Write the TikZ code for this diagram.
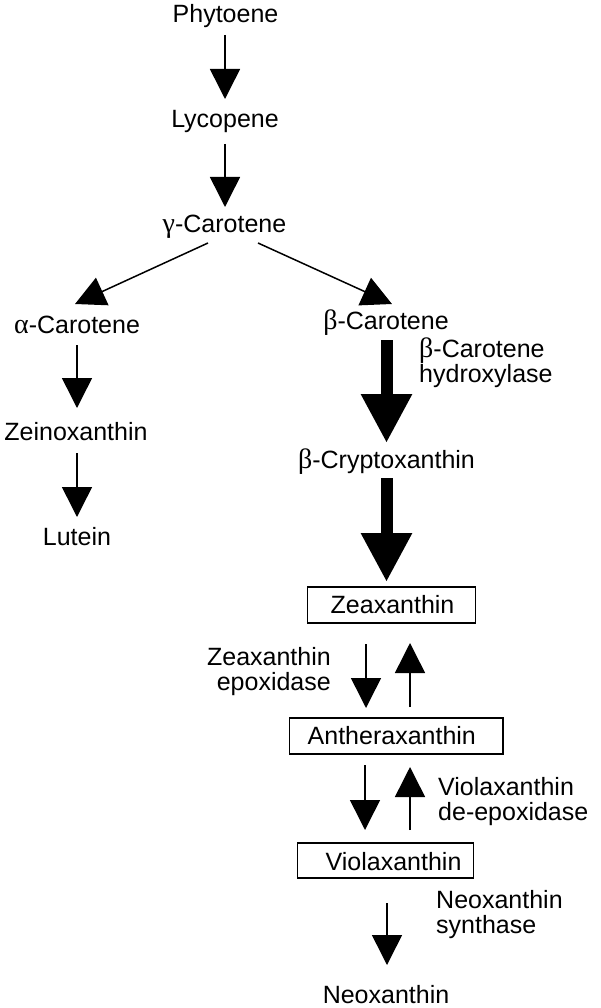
\documentclass[tikz,border=0pt]{standalone}
\usepackage{fontspec}
\setmainfont{Liberation Sans}
\newfontfamily\gk[Scale=1.12]{Liberation Serif}
\usetikzlibrary{arrows.meta}
\begin{document}
\begin{tikzpicture}[x=1pt,y=-1pt,
  lbl/.style={inner sep=0pt,anchor=base,font=\fontsize{25}{24.5}\selectfont},
  lbll/.style={lbl,anchor=base west,align=left},
  lblr/.style={lbl,anchor=base east,align=right},
  boxn/.style={lbl,draw,line width=1.4pt,anchor=base west,text height=26pt,text depth=10pt},
  tarr/.style={line width=1.5pt,-{Triangle[length=30pt,width=30pt]}},
  barr/.style={line width=12pt,-{Triangle[length=49pt,width=48pt]}}]
\useasboundingbox (0,0) rectangle (600,1008);
% compounds
\node[lbl] (phy) at (225.5,23) {Phytoene};
\node[lbl] (lyc) at (225,128) {Lycopene};
\node[lbl] (gam) at (224.5,233) {{\gk γ}-Carotene};
\node[lbl] (alp) at (77,333) {{\gk α}-Carotene};
\node[lbl] (bet) at (386,329) {{\gk β}-Carotene};
\node[lbl] (zei) at (76,440) {Zeinoxanthin};
\node[lbl] (lut) at (77,545) {Lutein};
\node[lbl] (cry) at (386.5,468) {{\gk β}-Cryptoxanthin};
\node[lbl] (neo) at (386,1003) {Neoxanthin};
% boxed compounds
\node[boxn] (zea) at (307,613) {\kern23pt Zeaxanthin\kern21pt};
\node[boxn] (ant) at (289,744) {\kern18pt Antheraxanthin\kern27pt};
\node[boxn,text height=27pt,text depth=8pt] (vio) at (297,870) {\kern28pt Violaxanthin\kern12pt};
% enzyme labels
\node[lbll] (hyd) at (419,382) {{\gk β}-Carotene\\hydroxylase};
\node[lblr] (zep) at (331,690) {Zeaxanthin\\epoxidase};
\node[lbll] (vde) at (438,820) {Violaxanthin\\de-epoxidase};
\node[lbll] (nsy) at (436,933) {Neoxanthin\\synthase};
% arrow end coordinates
\coordinate (p1) at (225,35);  \coordinate (p2) at (225,99);
\coordinate (l1) at (225,144); \coordinate (l2) at (225,207);
\coordinate (g1) at (208,243); \coordinate (g2) at (75,304);
\coordinate (g3) at (258,243); \coordinate (g4) at (392,304);
\coordinate (a1) at (77,345);  \coordinate (a2) at (77,408);
\coordinate (z1) at (77,453);  \coordinate (z2) at (77,517);
\coordinate (b1) at (386.5,340); \coordinate (b2) at (386.5,443);
\coordinate (c1) at (386.5,478); \coordinate (c2) at (386.5,582);
\coordinate (e1) at (366,644); \coordinate (e2) at (366,708);
\coordinate (e3) at (410,707); \coordinate (e4) at (410,643);
\coordinate (f1) at (365,765); \coordinate (f2) at (365,830);
\coordinate (f3) at (410,830); \coordinate (f4) at (410,767);
\coordinate (n1) at (387,903); \coordinate (n2) at (387,965);
% arrows
\draw[tarr] (p1) -- (p2);
\draw[tarr] (l1) -- (l2);
\draw[tarr] (g1) -- (g2);
\draw[tarr] (g3) -- (g4);
\draw[tarr] (a1) -- (a2);
\draw[tarr] (z1) -- (z2);
\draw[barr] (b1) -- (b2);
\draw[barr] (c1) -- (c2);
\draw[tarr] (e1) -- (e2);
\draw[tarr] (e3) -- (e4);
\draw[tarr] (f1) -- (f2);
\draw[tarr] (f3) -- (f4);
\draw[tarr] (n1) -- (n2);
\end{tikzpicture}
\end{document}
